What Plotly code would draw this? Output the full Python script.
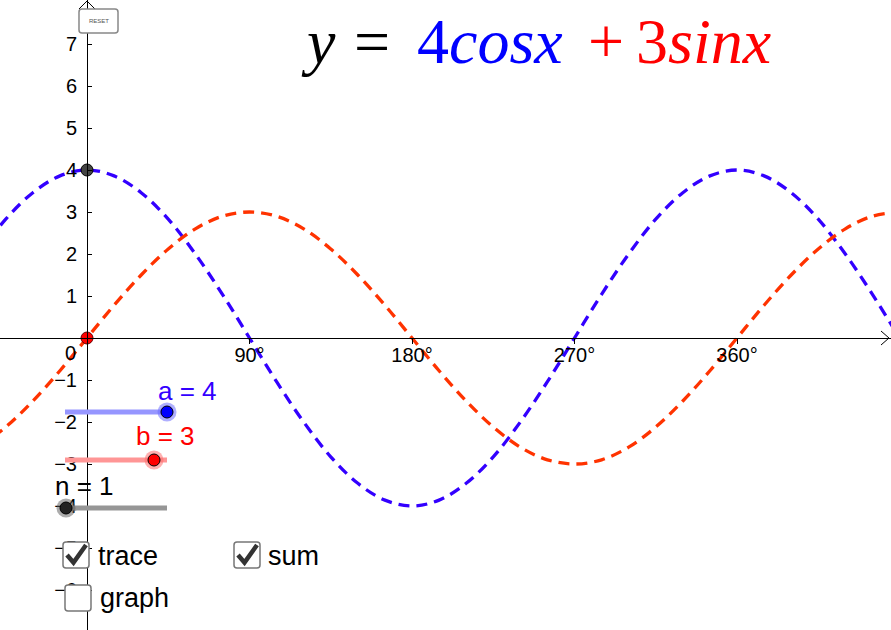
import plotly.graph_objects as go

# ---- data ----
degrees = [-60, -45, -30, -15, 0, 15, 30, 45, 60, 75, 90, 105, 120, 135, 150, 165, 180,
           195, 210, 225, 240, 255, 270, 285, 300, 315, 330, 345, 360, 375, 390, 405,
           420, 435, 450]
cos_curve = [2.0, 2.83, 3.46, 3.86, 4.0, 3.86, 3.46, 2.83, 2.0, 1.04, 0.0, -1.04, -2.0,
             -2.83, -3.46, -3.86, -4.0, -3.86, -3.46, -2.83, -2.0, -1.04, 0.0, 1.04, 2.0,
             2.83, 3.46, 3.86, 4.0, 3.86, 3.46, 2.83, 2.0, 1.04, 0.0]
sin_curve = [-2.6, -2.12, -1.5, -0.78, 0.0, 0.78, 1.5, 2.12, 2.6, 2.9, 3.0, 2.9, 2.6,
             2.12, 1.5, 0.78, 0.0, -0.78, -1.5, -2.12, -2.6, -2.9, -3.0, -2.9, -2.6,
             -2.12, -1.5, -0.78, 0.0, 0.78, 1.5, 2.12, 2.6, 2.9, 3.0]
x_tick_vals = [90, 180, 270, 360]
x_tick_text = ["90°", "180°", "270°", "360°"]
y_tick_vals = [-6, -5, -4, -3, -2, -1, 1, 2, 3, 4, 5, 6, 7]
y_tick_text = ["−6", "−5", "−4", "−3", "−2", "−1", "1", "2", "3", "4", "5", "6", "7"]
point_black = (0, 4)
point_red = (0, 0)
a_val, b_val, n_val = 4, 3, 1
checkbox_labels = ["trace", "sum", "graph"]
checkbox_states = [True, True, False]

W, H = 891, 630
BLUE = "rgb(51,0,255)"
RED = "rgb(255,51,0)"


def X(px):
    return px / W


def Y(py):
    return 1 - py / H


def rrect(x0, y0, x1, y1, r):
    pts = [
        ("M", [(x0 + r, y0)]), ("L", [(x1 - r, y0)]), ("Q", [(x1, y0), (x1, y0 + r)]),
        ("L", [(x1, y1 - r)]), ("Q", [(x1, y1), (x1 - r, y1)]), ("L", [(x0 + r, y1)]),
        ("Q", [(x0, y1), (x0, y1 - r)]), ("L", [(x0, y0 + r)]), ("Q", [(x0, y0), (x0 + r, y0)]),
    ]
    s = ""
    for cmd, ps in pts:
        s += cmd + " " + " ".join(f"{X(a):.5f},{Y(b):.5f}" for a, b in ps) + " "
    return s + "Z"


def poly(ps):
    return "M " + " L ".join(f"{X(a):.5f},{Y(b):.5f}" for a, b in ps)


fig = go.Figure()
fig.add_trace(go.Scatter(x=degrees, y=cos_curve, mode="lines",
                         line=dict(color=BLUE, width=3.3, dash="11px,7px", shape="spline"),
                         hoverinfo="skip"))
fig.add_trace(go.Scatter(x=degrees, y=sin_curve, mode="lines",
                         line=dict(color=RED, width=3.3, dash="11px,7px", shape="spline"),
                         hoverinfo="skip"))
fig.add_trace(go.Scatter(x=[point_black[0]], y=[point_black[1]], mode="markers",
                         marker=dict(size=12, color="#444444", line=dict(color="black", width=1))))
fig.add_trace(go.Scatter(x=[point_red[0]], y=[point_red[1]], mode="markers",
                         marker=dict(size=12, color="#ff0000", line=dict(color="#660000", width=1))))

shapes = []
annotations = []

# axis arrows
shapes.append(dict(type="path", xref="paper", yref="paper", path=poly([(79, 9), (87, 1), (95, 9)]),
                   line=dict(color="black", width=1)))
shapes.append(dict(type="path", xref="paper", yref="paper",
                   path=poly([(881, 331), (889, 338), (881, 345)]), line=dict(color="black", width=1)))

# reset button
shapes.append(dict(type="path", xref="paper", yref="paper", path=rrect(79, 9, 118, 33, 3),
                   line=dict(color="#888888", width=1.5), fillcolor="white", layer="above"))
annotations.append(dict(xref="paper", yref="paper", x=X(98.5), y=Y(21), xanchor="center", yanchor="middle",
                        text="RESET", showarrow=False,
                        font=dict(family="Liberation Sans", size=6, color="#555555")))

# sliders
sliders = [
    (412, 167, "rgb(150,150,255)", "rgba(110,110,255,0.55)", "#0000ff", f"a = {a_val}", BLUE, 157, 391),
    (460, 154, "rgb(255,150,150)", "rgba(255,110,110,0.55)", "#ff0000", f"b = {b_val}", "#ff0000", 135, 436),
    (508, 66, "rgb(150,150,150)", "rgba(90,90,90,0.5)", "#222222", f"n = {n_val}", "black", 54, 486),
]
for sy, px_pt, lc, halo, fill, label, tc, lx, ly in sliders:
    shapes.append(dict(type="line", xref="paper", yref="paper", x0=X(65), x1=X(167), y0=Y(sy), y1=Y(sy),
                       line=dict(color=lc, width=5), layer="above"))
    shapes.append(dict(type="circle", xref="paper", yref="paper", x0=X(px_pt - 9.5), x1=X(px_pt + 9.5),
                       y0=Y(sy - 9.5), y1=Y(sy + 9.5), line=dict(width=0), fillcolor=halo, layer="above"))
    shapes.append(dict(type="circle", xref="paper", yref="paper", x0=X(px_pt - 6), x1=X(px_pt + 6),
                       y0=Y(sy - 6), y1=Y(sy + 6), line=dict(color="black", width=1), fillcolor=fill,
                       layer="above"))
    annotations.append(dict(xref="paper", yref="paper", x=X(lx), y=Y(ly), xanchor="left", yanchor="middle",
                            text=label.replace(" ", "\u00a0"), showarrow=False, borderpad=0,
                            font=dict(family="Liberation Sans", size=26, color=tc)))

# checkboxes
boxes = [(63, 542), (234, 542), (65, 585)]
label_pos = [(96, 556), (266, 556), (98, 598)]
for (bx, by), (tx, ty), lab, st in zip(boxes, label_pos, checkbox_labels, checkbox_states):
    shapes.append(dict(type="path", xref="paper", yref="paper", path=rrect(bx, by, bx + 26, by + 26, 3),
                       line=dict(color="#777777", width=1.5), fillcolor="white", layer="above"))
    if st:
        shapes.append(dict(type="path", xref="paper", yref="paper",
                           path=poly([(bx + 4, by + 13), (bx + 10.5, by + 20.5), (bx + 23, by + 3)]),
                           line=dict(color="#333333", width=4.5), layer="above"))
    annotations.append(dict(xref="paper", yref="paper", x=X(tx), y=Y(ty), xanchor="left", yanchor="middle",
                            text=lab, showarrow=False,
                            font=dict(family="Liberation Sans", size=27, color="black")))

# origin label
annotations.append(dict(xref="x", yref="y", x=0, y=0, xanchor="right", yanchor="middle", xshift=-9,
                        yshift=-15, text="0", showarrow=False,
                        font=dict(family="Liberation Sans", size=20, color="black")))

# title
tf = dict(family="Liberation Serif", size=64, color="black")
title_parts = [
    (299, "<i>y</i>", "black"),
    (352, "=", "black"),
    (415, "4<i>cosx</i>", "#0000ff"),
    (586, "+", "#ff0000"),
    (634, "3<i>sinx</i>", "#ff0000"),
]
for tx, txt, col in title_parts:
    annotations.append(dict(xref="paper", yref="paper", x=X(tx), y=Y(42), xanchor="left", yanchor="middle",
                            text=txt, showarrow=False, font=dict(tf, color=col)))

px_per_deg = 162.5 / 90
px_per_unit = 42.0
fig.update_layout(
    template="none",
    width=W, height=H,
    margin=dict(l=0, r=0, t=0, b=0, pad=0),
    paper_bgcolor="white", plot_bgcolor="white",
    showlegend=False,
    shapes=shapes, annotations=annotations,
    xaxis=dict(range=[-87 / px_per_deg, (W - 87) / px_per_deg], showgrid=False, zeroline=False,
               showline=True, linecolor="black", linewidth=1, anchor="free", position=1 - 338 / H,
               tickvals=x_tick_vals, ticktext=x_tick_text, ticks="outside", ticklen=5, tickcolor="black",
               tickwidth=1, tickfont=dict(family="Liberation Sans", size=20, color="black"),
               ticklabelstandoff=-6, automargin=False, fixedrange=True),
    yaxis=dict(range=[-(H - 338) / px_per_unit, 338 / px_per_unit], showgrid=False, zeroline=False,
               showline=True, linecolor="black", linewidth=1, anchor="free", position=87 / W,
               tickvals=y_tick_vals, ticktext=y_tick_text, ticks="inside", ticklen=4, tickcolor="black",
               tickwidth=1, tickfont=dict(family="Liberation Sans", size=20, color="black"),
               ticklabelstandoff=6, automargin=False, fixedrange=True),
)

fig.write_html("out.html", config={"displayModeBar": False},
               post_script="document.body.style.margin='0px';document.body.style.padding='0px';")
